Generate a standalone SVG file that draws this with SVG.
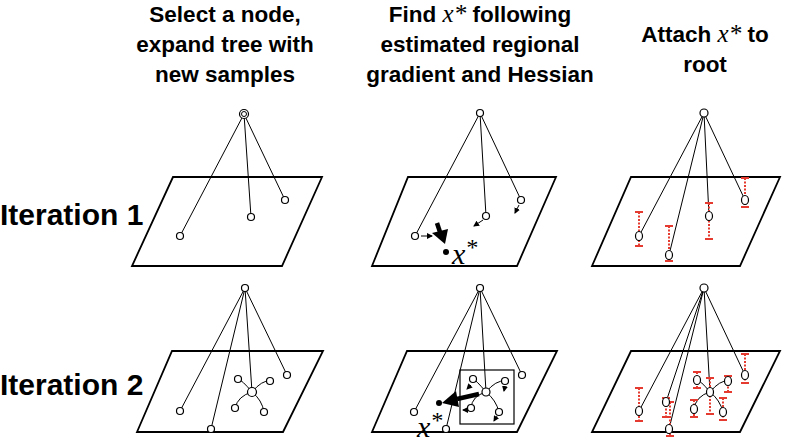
<svg xmlns="http://www.w3.org/2000/svg" width="785" height="446" viewBox="0 0 785 446">
<defs>
<style>
.t{font-family:"Liberation Sans",Arial,sans-serif;font-weight:bold;font-size:22.5px;fill:#000;text-anchor:middle}
.it{font-family:"Liberation Sans",Arial,sans-serif;font-weight:bold;font-size:30px;fill:#000}
.x{font-family:"Liberation Serif","Times New Roman",serif;font-style:italic;font-weight:normal;fill:#000}
.plane{fill:none;stroke:#000;stroke-width:1.8}
.e{stroke:#000;stroke-width:1;fill:none}
.n{fill:#fff;stroke:#000;stroke-width:1.2}
.eb{stroke:#e53a2f;stroke-width:2;stroke-dasharray:2 1.5}
.cap{stroke:#e53a2f;stroke-width:2}
.sa{stroke:#000;stroke-width:1;marker-end:url(#sa)}
</style>
<marker id="sa" markerWidth="6" markerHeight="6" refX="5" refY="3" orient="auto" markerUnits="userSpaceOnUse"><path d="M0,0 L6,3 L0,6 z" fill="#000"/></marker>
</defs>
<text class="t" x="225" y="22">Select a node,</text>
<text class="t" x="225" y="52">expand tree with</text>
<text class="t" x="225" y="82">new samples</text>
<text class="t" x="480" y="22">Find <tspan class="x" font-size="25">x</tspan><tspan class="x" font-size="25">*</tspan> following</text>
<text class="t" x="480" y="52">estimated regional</text>
<text class="t" x="480" y="82">gradient and Hessian</text>
<text class="t" x="705" y="42">Attach <tspan class="x" font-size="25">x</tspan><tspan class="x" font-size="25">*</tspan> to</text>
<text class="t" x="705" y="72">root</text>
<text class="it" x="0" y="225">Iteration 1</text>
<text class="it" x="0" y="395">Iteration 2</text>

<g id="planes">
<polygon class="plane" points="173,177 322,177 282,266 132,266"/>
<polygon class="plane" points="408,177 556,177 517,266 372,266"/>
<polygon class="plane" points="631,177 780,177 740,266 592,266"/>
<polygon class="plane" points="172,351 323,351 283,432 137,432"/>
<polygon class="plane" points="407,351 557,351 517,432 372,432"/>
<polygon class="plane" points="631,351 780,351 740,432 592,432"/>
</g>

<g id="connectors">
<path class="e" d="M244,114 L180,236 M244,114 L251,217 M244,114 L285,200"/>
<path class="e" d="M480,113 L415,236 M480,113 L486,216 M480,113 L521,200"/>
<path class="e" d="M704,113 L639,236 M704,113 L669,255 M704,113 L709,216 M704,113 L745,200"/>
<path class="e" d="M245,288 L180,411 M245,288 L211,429 M245,288 L287,375 M245,288 L252,392"/>
<path class="e" d="M252,392 Q242,380 238,379 M252,392 Q262,380 270,381 M252,392 Q238,396 235,408 M252,392 Q262,400 264,412"/>
<path class="e" d="M480,288 L414,412 M480,288 L446,429 M480,288 L522,375 M480,288 L486,392"/>
<path class="e" d="M486,392 Q476,380 473,379 M486,392 Q496,380 505,381 M486,392 Q472,396 471,408 M486,392 Q496,400 499,412"/>
<path class="e" d="M704,288 L639,411 M704,288 L666,402 M704,288 L669,429 M704,288 L745,375 M704,288 L710,392"/>
<path class="e" d="M710,392 Q700,380 697,380 M710,392 Q720,380 728,381 M710,392 Q696,396 694,409 M710,392 Q720,400 723,412"/>
<line class="sa" x1="421" y1="236" x2="432" y2="236"/>
<line class="sa" x1="483" y1="220" x2="474" y2="226"/>
<line class="sa" x1="519" y1="205" x2="515" y2="213"/>
<line class="sa" x1="471" y1="385" x2="467" y2="389"/>
<line class="sa" x1="505" y1="386" x2="504" y2="391"/>
<line class="sa" x1="469" y1="410" x2="463" y2="410"/>
<line class="sa" x1="497" y1="416" x2="494" y2="421"/>
<line x1="437" y1="223" x2="440" y2="232" stroke="#000" stroke-width="4.5"/>
<polygon points="432,233 448,229 445,244" fill="#000"/>
<line x1="479" y1="394" x2="457" y2="399" stroke="#000" stroke-width="4.5"/>
<polygon points="456,391 459,407 442,403" fill="#000"/>
</g>
<rect x="460" y="370" width="54" height="54" fill="none" stroke="#000" stroke-width="1.2"/>

<g id="errbars">
<path class="eb" d="M639,212V246 M669,226V261 M709,203V239 M745,178V207"/>
<path class="cap" d="M635,212h8 M635,246h8 M665,226h8 M665,261h8 M705,203h8 M705,239h8 M741,178h8 M741,207h8"/>
<path class="eb" d="M639,388V421 M666,398V417 M670,402V436 M745,354V383 M710,378V414 M697,372V388 M728,376V392 M694,400V417 M723,398V420"/>
<path class="cap" d="M635,388h8 M635,421h8 M662,398h8 M662,417h8 M666,402h8 M666,436h8 M741,354h8 M741,383h8 M706,378h8 M706,414h8 M693,372h8 M693,388h8 M724,376h8 M724,392h8 M690,400h8 M690,417h8 M719,398h8 M719,420h8"/>
</g>

<g id="nodes">
<circle class="n" cx="244" cy="114" r="4.5"/><circle cx="244" cy="114" r="2.5" fill="none" stroke="#000"/>
<circle class="n" cx="180" cy="236" r="3.5"/><circle class="n" cx="251" cy="217" r="3.5"/><circle class="n" cx="285" cy="200" r="3.5"/>
<circle class="n" cx="480" cy="113" r="3.5"/>
<circle class="n" cx="415" cy="236" r="3.5"/><circle class="n" cx="486" cy="216" r="3.5"/><circle class="n" cx="521" cy="200" r="3.5"/>
<circle cx="446" cy="252" r="3" fill="#000"/>
<text class="x" x="452" y="264" font-size="30">x<tspan font-size="24" dy="-9">*</tspan></text>
<circle class="n" cx="704" cy="113" r="4"/>
<ellipse class="n" fill="none" cx="639" cy="236" rx="3.5" ry="4.5"/><ellipse class="n" fill="none" cx="669" cy="255" rx="3.5" ry="4.5"/><ellipse class="n" fill="none" cx="709" cy="216" rx="3.5" ry="4.5"/><ellipse class="n" fill="none" cx="745" cy="200" rx="3.5" ry="4.5"/>
<circle class="n" cx="245" cy="288" r="3.5"/>
<circle class="n" cx="180" cy="411" r="3.5"/><circle class="n" cx="211" cy="429" r="3.5"/><circle class="n" cx="287" cy="375" r="3.5"/>
<circle class="n" cx="252" cy="392" r="4.5" stroke-width="2"/>
<circle class="n" cx="238" cy="379" r="3.5"/><circle class="n" cx="270" cy="381" r="3.5"/><circle class="n" cx="235" cy="408" r="3.5"/><circle class="n" cx="264" cy="412" r="3.5"/>
<circle class="n" cx="480" cy="288" r="3.5"/>
<circle class="n" cx="414" cy="412" r="3.5"/><circle class="n" cx="446" cy="429" r="3.5"/><circle class="n" cx="522" cy="375" r="3.5"/>
<circle class="n" cx="486" cy="392" r="4"/>
<circle class="n" cx="473" cy="379" r="3.5"/><circle class="n" cx="505" cy="381" r="3.5"/><circle class="n" cx="471" cy="408" r="3.5"/><circle class="n" cx="499" cy="412" r="3.5"/>
<circle cx="439" cy="403" r="3" fill="#000"/>
<text class="x" x="417" y="437" font-size="30">x<tspan font-size="24" dy="-9">*</tspan></text>
<circle class="n" cx="704" cy="288" r="4"/>
<ellipse class="n" fill="none" cx="639" cy="411" rx="3.5" ry="4.5"/><ellipse class="n" fill="none" cx="666" cy="402" rx="3.5" ry="4.5"/><ellipse class="n" fill="none" cx="669" cy="429" rx="3.5" ry="4.5"/><ellipse class="n" fill="none" cx="745" cy="375" rx="3.5" ry="4.5"/>
<ellipse class="n" fill="none" cx="710" cy="392" rx="3.5" ry="4.5"/><ellipse class="n" fill="none" cx="697" cy="380" rx="3.5" ry="4.5"/><ellipse class="n" fill="none" cx="728" cy="381" rx="3.5" ry="4.5"/><ellipse class="n" fill="none" cx="694" cy="409" rx="3.5" ry="4.5"/><ellipse class="n" fill="none" cx="723" cy="412" rx="3.5" ry="4.5"/>
</g>
</svg>
